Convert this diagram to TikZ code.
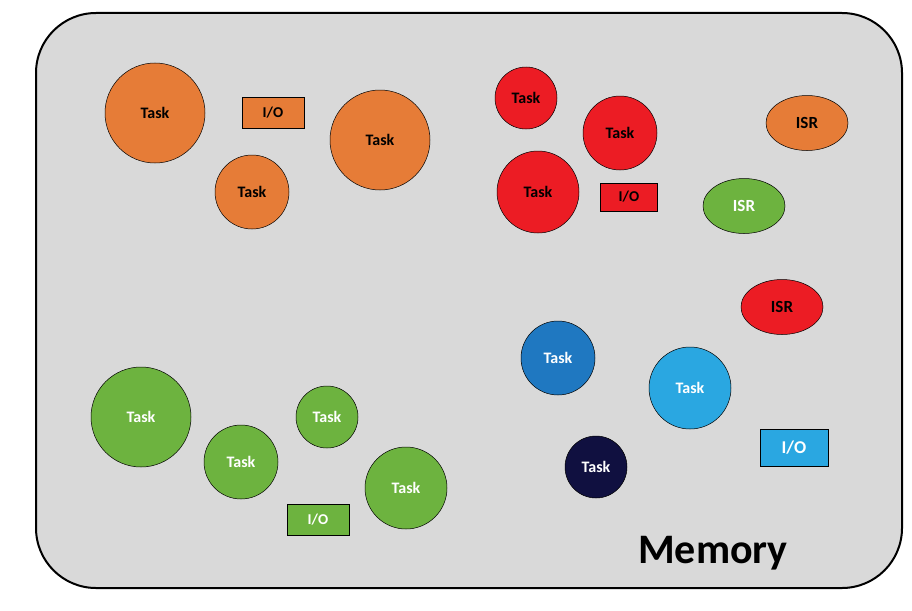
\documentclass[tikz,border=0pt]{standalone}
\usepackage{fontspec}
\setmainfont{Carlito}
\usetikzlibrary{shapes.geometric}
\definecolor{memgray}{HTML}{D9D9D9}
\definecolor{taskorange}{HTML}{E67C37}
\definecolor{taskred}{HTML}{EC1C24}
\definecolor{taskgreen}{HTML}{6DB33F}
\definecolor{taskblue}{HTML}{1F78C1}
\definecolor{tasksky}{HTML}{2AA7E1}
\definecolor{tasknavy}{HTML}{101040}
\tikzset{
  task/.style={circle,draw=black,line width=0.5pt,inner sep=0pt,font=\bfseries\fontsize{16}{16}\selectfont},
  isr/.style={ellipse,draw=black,line width=0.5pt,minimum width=82pt,minimum height=55pt,inner sep=0pt,font=\bfseries\fontsize{17}{17}\selectfont},
  io/.style={rectangle,draw=black,line width=0.5pt,inner sep=0pt,font=\bfseries\fontsize{15}{15}\selectfont}
}
\begin{document}
\begin{tikzpicture}[x=1pt,y=-1pt]
    \useasboundingbox (0,0) rectangle (912,610);

    % Speicher
    \draw[line width=2pt,fill=memgray,rounded corners=60pt] (36,13) rectangle (902,588);
    \node[font=\bfseries\fontsize{42}{42}\selectfont] (mem) at (713,553) {Memory};

    % orange
    \node[task,fill=taskorange,minimum size=100pt] (o1) at (155,113) {Task};
    \node[task,fill=taskorange,minimum size=100pt] (o2) at (380,140) {Task};
    \node[task,fill=taskorange,minimum size=74pt] (o3) at (252,192) {Task};
    \node[io,fill=taskorange,minimum width=62pt,minimum height=31pt] (oio) at (273,113) {I/O};

    % rot
    \node[task,fill=taskred,minimum size=62pt] (r1) at (526,98) {Task};
    \node[task,fill=taskred,minimum size=74pt] (r2) at (620,133) {Task};
    \node[task,fill=taskred,minimum size=82pt] (r3) at (538,192) {Task};
    \node[io,fill=taskred,minimum width=57pt,minimum height=28pt] (rio) at (629,197) {I/O};

    % ISR
    \node[isr,fill=taskorange] (isr1) at (807,123) {ISR};
    \node[isr,fill=taskgreen,text=white] (isr2) at (744,206) {ISR};
    \node[isr,fill=taskred] (isr3) at (782,307) {ISR};

    % blau
    \node[task,fill=taskblue,text=white,minimum size=74pt] (b1) at (558,358) {Task};
    \node[task,fill=tasksky,text=white,minimum size=82pt] (b2) at (690,388) {Task};
    \node[task,fill=tasknavy,text=white,minimum size=62pt] (b3) at (596,467) {Task};
    \node[io,fill=tasksky,text=white,minimum width=68pt,minimum height=37pt,font=\bfseries\fontsize{18}{18}\selectfont] (bio) at (794,448) {I/O};

    % gruen
    \node[task,fill=taskgreen,text=white,minimum size=100pt] (g1) at (141,417) {Task};
    \node[task,fill=taskgreen,text=white,minimum size=74pt] (g2) at (241,462) {Task};
    \node[task,fill=taskgreen,text=white,minimum size=62pt] (g3) at (327,417) {Task};
    \node[task,fill=taskgreen,text=white,minimum size=82pt] (g4) at (406,488) {Task};
    \node[io,fill=taskgreen,text=white,minimum width=62pt,minimum height=31pt] (gio) at (318,520) {I/O};
\end{tikzpicture}
\end{document}
